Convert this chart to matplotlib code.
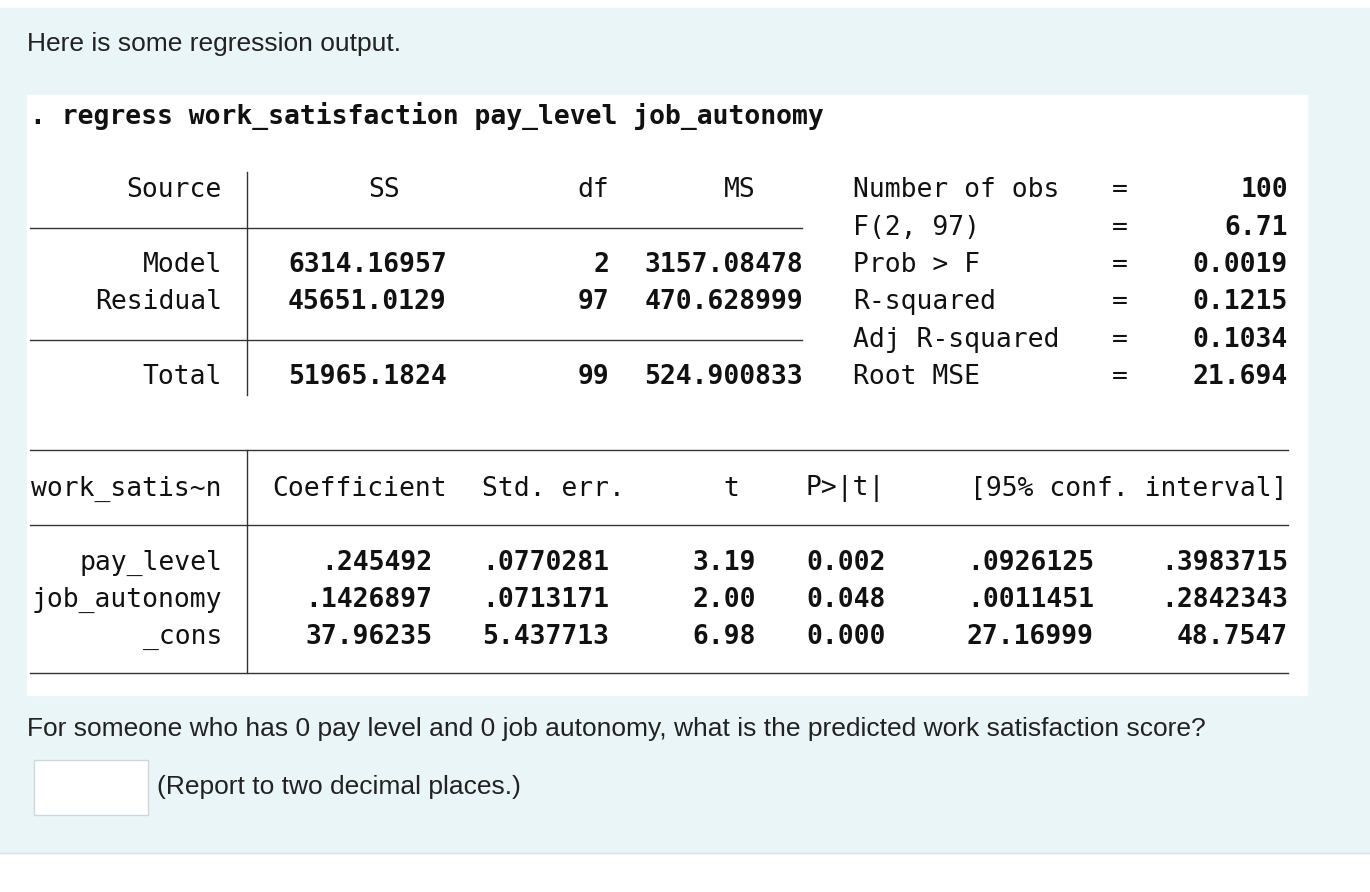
import matplotlib.pyplot as plt
from matplotlib.patches import Rectangle

# anova part
src_rows = ['Model', 'Residual', 'Total']
ss_vals = ['6314.16957', '45651.0129', '51965.1824']
df_vals = ['2', '97', '99']
ms_vals = ['3157.08478', '470.628999', '524.900833']

stat_labels = ['Number of obs', 'F(2, 97)', 'Prob > F', 'R-squared', 'Adj R-squared', 'Root MSE']
stat_vals = ['100', '6.71', '0.0019', '0.1215', '0.1034', '21.694']

# coefficient part
coef_names = ['pay_level', 'job_autonomy', '_cons']
coefs = ['.245492', '.1426897', '37.96235']
std_errs = ['.0770281', '.0713171', '5.437713']
t_vals = ['3.19', '2.00', '6.98']
p_vals = ['0.002', '0.048', '0.000']
ci_low = ['.0926125', '.0011451', '27.16999']
ci_high = ['.3983715', '.2842343', '48.7547']

W, H = 1370, 892
fig = plt.figure(figsize=(W / 100, H / 100), dpi=100)
ax = fig.add_axes([0, 0, 1, 1])
ax.set_xlim(0, W)
ax.set_ylim(H, 0)
ax.axis('off')

ax.add_patch(Rectangle((0, 8), W, 845, color='#eaf5f8', zorder=0))
ax.plot([0, W], [853, 853], color='#d8e2e6', lw=1)
ax.add_patch(Rectangle((27, 95), 1280, 600, color='white', zorder=1))

sans = dict(family=['Liberation Sans', 'DejaVu Sans'], fontsize=19, color='#222222', va='center')
mono = dict(family='DejaVu Sans Mono', fontsize=19, color='#111111', va='center', zorder=3)
bold = dict(mono, weight='bold')

ax.text(27, 44, 'Here is some regression output.', **sans)
ax.text(30, 116, '. regress work_satisfaction pay_level job_autonomy', **bold)

# anova header
ax.text(222, 190, 'Source', ha='right', **mono)
ax.text(384, 190, 'SS', ha='center', **mono)
ax.text(609, 190, 'df', ha='right', **mono)
ax.text(740, 190, 'MS', ha='center', **mono)

row_y = [265, 302, 377]
for i, y in enumerate(row_y):
    ax.text(222, y, src_rows[i], ha='right', **mono)
    ax.text(288, y, ss_vals[i], ha='left', **bold)
    ax.text(609, y, df_vals[i], ha='right', **bold)
    ax.text(803, y, ms_vals[i], ha='right', **bold)

stat_y = [190, 228, 265, 302, 340, 377]
for i, y in enumerate(stat_y):
    ax.text(853, y, stat_labels[i], ha='left', **mono)
    ax.text(1120, y, '=', ha='center', **mono)
    ax.text(1288, y, stat_vals[i], ha='right', **bold)

lc = dict(color='#333333', lw=1, zorder=3)
ax.plot([247, 247], [172, 395], **lc)
ax.plot([30, 802], [228, 228], **lc)
ax.plot([30, 802], [340, 340], **lc)

# coefficient table
ax.plot([247, 247], [450, 673], **lc)
for y in [450, 525, 673]:
    ax.plot([30, 1288], [y, y], **lc)

hy = 489
ax.text(222, hy, 'work_satis~n', ha='right', **mono)
ax.text(272, hy, 'Coefficient', ha='left', **mono)
ax.text(482, hy, 'Std. err.', ha='left', **mono)
ax.text(731, hy, 't', ha='center', **mono)
ax.text(806, hy, 'P>|t|', ha='left', **mono)
ax.text(1288, hy, '[95% conf. interval]', ha='right', **mono)

coef_y = [563, 600, 637]
for i, y in enumerate(coef_y):
    ax.text(222, y, coef_names[i], ha='right', **mono)
    ax.text(432, y, coefs[i], ha='right', **bold)
    ax.text(609, y, std_errs[i], ha='right', **bold)
    ax.text(756, y, t_vals[i], ha='right', **bold)
    ax.text(806, y, p_vals[i], ha='left', **bold)
    ax.text(1094, y, ci_low[i], ha='right', **bold)
    ax.text(1288, y, ci_high[i], ha='right', **bold)

ax.text(27, 729, 'For someone who has 0 pay level and 0 job autonomy, '
        'what is the predicted work satisfaction score?', **sans)
ax.add_patch(Rectangle((34, 760), 114, 55, facecolor='white', edgecolor='#cfd8dc', lw=1, zorder=2))
ax.text(157, 787, '(Report to two decimal places.)', **sans)

fig.savefig('out.png', dpi=100)
